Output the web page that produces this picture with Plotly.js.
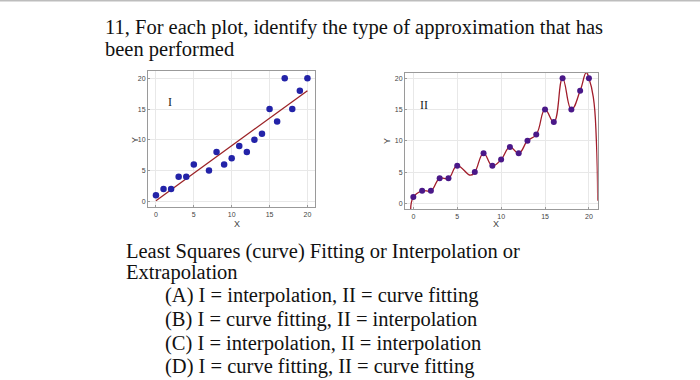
<!DOCTYPE html>
<html>
<head>
<meta charset="utf-8">
<script src="https://cdn.plot.ly/plotly-3.0.1.min.js"></script>
<style>html,body{margin:0;padding:0;background:#fff;}#chart{width:700px;height:380px;}</style>
</head>
<body>
<div id="chart"></div>
<script>
// Data points (same in both plots)
var pointsX = [0,1,2,3,4,5,7,8,9,10,11,12,13,14,15,16,17,18,19,20];
var pointsY = [1,2,2,4,4,6,5,8,6,7,9,8,10,11,15,13,20,15,18,20];
// Plot I: least-squares line
var fitX = [0, 20];
var fitY = [0.1, 18];
// Plot II: interpolating curve, readings along the drawn curve
var curveX = [-0.3,0,1,2,3,4,5,6.5,7,8,9,10,11,12,13,14,15,16,17,18,19,19.7,20,20.5,20.85,21];
var curveY = [-1.6,1,2,2,4,4,6,4.5,5,8,6,7,9,8,10,11,15,13,20,15,18,20.9,20,17,10,0.4];
var tickVals = [0,5,10,15,20];
var tickText = ['0','5','10','15','20'];

var W = 700, H = 380;
function px(x){return x/W;}
function py(y){return 1 - y/H;}

var traces = [
  {x: fitX, y: fitY, mode: 'lines', line: {color: '#9b2226', width: 1.3}, xaxis: 'x', yaxis: 'y', hoverinfo: 'skip'},
  {x: pointsX, y: pointsY, mode: 'markers', marker: {color: '#2323a8', size: 6.5}, xaxis: 'x', yaxis: 'y'},
  {x: curveX, y: curveY, mode: 'lines', line: {color: '#a11d2b', width: 1.3, shape: 'spline', smoothing: 1.3}, xaxis: 'x2', yaxis: 'y2', hoverinfo: 'skip'},
  {x: pointsX, y: pointsY, mode: 'markers', marker: {color: '#4a1888', size: 6}, xaxis: 'x2', yaxis: 'y2'}
];

function ax(domain, anchor, range) {
  return {
    domain: domain, anchor: anchor, range: range,
    tickvals: tickVals, ticktext: tickText,
    showgrid: true, gridcolor: '#e8e8e8', gridwidth: 1,
    zeroline: false, showline: true, linecolor: '#9a9a9a', linewidth: 1, mirror: true,
    ticks: 'inside', ticklen: 2, tickcolor: '#9a9a9a',
    tickfont: {family: 'Liberation Sans, Arial, sans-serif', size: 7, color: '#444'}
  };
}

var serif = 'Liberation Serif, Times New Roman, serif';
var lines = [
  {t: '11, For each plot, identify the type of approximation that has', x: 103, y: 27},
  {t: 'been performed', x: 103, y: 50},
  {t: 'Least Squares (curve) Fitting or Interpolation or', x: 124, y: 252},
  {t: 'Extrapolation', x: 124, y: 272},
  {t: '(A) I = interpolation, II = curve fitting', x: 163, y: 295},
  {t: '(B) I = curve fitting, II = interpolation', x: 163, y: 319},
  {t: '(C) I = interpolation, II = interpolation', x: 163, y: 343},
  {t: '(D) I = curve fitting, II = curve fitting', x: 163, y: 366}
];
var annotations = lines.map(function(l){
  return {text: l.t, xref: 'paper', yref: 'paper', x: px(l.x), y: py(l.y), xanchor: 'left', yanchor: 'middle',
    showarrow: false, font: {family: serif, size: 20.5, color: '#111'}};
});
var small = {family: 'Liberation Sans, Arial, sans-serif', size: 9, color: '#444'};
annotations.push(
  {text: 'I', xref: 'paper', yref: 'paper', x: px(166), y: py(93), showarrow: false, font: {family: serif, size: 12, color: '#222'}},
  {text: 'II', xref: 'paper', yref: 'paper', x: px(424), y: py(96), showarrow: false, font: {family: serif, size: 12, color: '#222'}},
  {text: 'X', xref: 'paper', yref: 'paper', x: px(232), y: py(224), showarrow: false, font: small},
  {text: 'X', xref: 'paper', yref: 'paper', x: px(501), y: py(224), showarrow: false, font: small},
  {text: 'Y', xref: 'paper', yref: 'paper', x: px(128), y: py(140), showarrow: false, textangle: -90, font: small},
  {text: 'Y', xref: 'paper', yref: 'paper', x: px(387), y: py(141), showarrow: false, textangle: -90, font: small}
);

var layout = {
  width: W, height: H,
  margin: {l: 0, r: 0, t: 0, b: 0},
  paper_bgcolor: '#fff', plot_bgcolor: '#fff',
  showlegend: false,
  xaxis: ax([px(148), px(315)], 'y', [-1.05, 21]),
  yaxis: ax([py(207.3), py(71)], 'x', [-0.98, 21.2]),
  xaxis2: ax([px(405), px(597.7)], 'y2', [-0.95, 21]),
  yaxis2: ax([py(209.3), py(72.7)], 'x2', [-0.96, 20.9]),
  annotations: annotations,
  shapes: [{type: 'line', xref: 'paper', yref: 'paper', x0: 0, x1: 1, y0: py(0.8), y1: py(0.8), line: {color: '#bdbdbd', width: 1.5}}]
};

Plotly.newPlot('chart', traces, layout, {displayModeBar: false, staticPlot: true});
</script>
</body>
</html>
